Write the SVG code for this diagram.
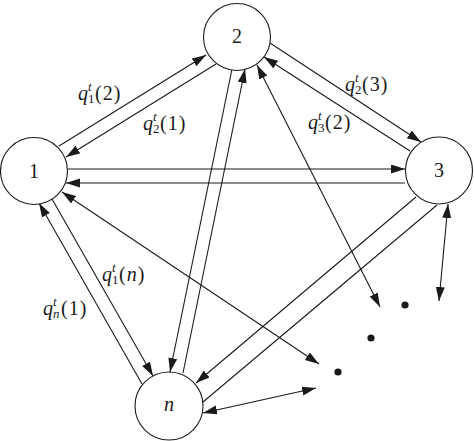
<svg xmlns="http://www.w3.org/2000/svg" width="474" height="441" viewBox="0 0 474 441">
<defs>
<marker id="ah" markerUnits="userSpaceOnUse" markerWidth="15" markerHeight="10" refX="14" refY="4.5" orient="auto-start-reverse" viewBox="0 0 15 10">
<path d="M0,0 L14,4.5 L0,9 z" fill="#1a1a1a"/>
</marker>
</defs>
<style>
.node circle{fill:#fff;stroke:#1a1a1a;stroke-width:1.1}
.edges line{stroke:#1a1a1a;stroke-width:1.1;fill:none}
text{font-family:'Liberation Serif','DejaVu Serif','Times New Roman',serif;fill:#1a1a1a}
.nl{font-size:20px;text-anchor:middle}
.m{font-size:20px}
.i{font-style:italic}
.s{font-size:13px}
.p{font-size:20px;letter-spacing:1px}
</style>
<rect width="474" height="441" fill="#fff"/>
<g class="edges">
<line x1="59" y1="146" x2="206" y2="55" marker-end="url(#ah)"/>
<line x1="216" y1="64" x2="66" y2="157" marker-end="url(#ah)"/>
<line x1="68" y1="169" x2="405" y2="169" marker-end="url(#ah)"/>
<line x1="405" y1="183" x2="66" y2="183" marker-end="url(#ah)"/>
<line x1="270" y1="43" x2="421" y2="142" marker-end="url(#ah)"/>
<line x1="410" y1="151" x2="264" y2="57" marker-end="url(#ah)"/>
<line x1="257" y1="65" x2="380" y2="307" marker-start="url(#ah)" marker-end="url(#ah)"/>
<line x1="232" y1="69" x2="170" y2="372" marker-end="url(#ah)"/>
<line x1="183" y1="373" x2="245" y2="69" marker-end="url(#ah)"/>
<line x1="142" y1="384" x2="39" y2="203" marker-end="url(#ah)"/>
<line x1="52" y1="199" x2="153" y2="376" marker-end="url(#ah)"/>
<line x1="62" y1="192" x2="319" y2="364" marker-start="url(#ah)" marker-end="url(#ah)"/>
<line x1="416" y1="197" x2="196" y2="383" marker-end="url(#ah)"/>
<line x1="203" y1="402" x2="437" y2="205"/>
<line x1="448" y1="204" x2="439" y2="301" marker-start="url(#ah)" marker-end="url(#ah)"/>
<line x1="203" y1="413" x2="316" y2="388" marker-start="url(#ah)" marker-end="url(#ah)"/>
</g>
<g id="node1" class="node"><circle cx="34" cy="171" r="33.5"/><text class="nl" x="34" y="178">1</text></g>
<g id="node2" class="node"><circle cx="237" cy="37" r="33.5"/><text class="nl" x="237" y="43">2</text></g>
<g id="node3" class="node"><circle cx="439" cy="170.5" r="33.5"/><text class="nl" x="439" y="177">3</text></g>
<g id="noden" class="node"><circle cx="169" cy="406" r="34"/><text class="nl i" x="169" y="411">n</text></g>
<g id="dots" fill="#1a1a1a">
<circle cx="405" cy="305" r="3.6"/>
<circle cx="371" cy="338" r="3.6"/>
<circle cx="338" cy="372" r="3.6"/>
</g>
<g id="labels">
<g><text class="m i" x="78" y="100">q</text><text class="s i" x="88" y="91">t</text><text class="s" x="88" y="103">1</text><text class="p" x="95" y="100">(2)</text></g>
<g><text class="m i" x="143" y="130">q</text><text class="s i" x="153" y="121">t</text><text class="s" x="153" y="133">2</text><text class="p" x="160" y="130">(1)</text></g>
<g><text class="m i" x="345" y="91">q</text><text class="s i" x="355" y="82">t</text><text class="s" x="355" y="94">2</text><text class="p" x="362" y="91">(3)</text></g>
<g><text class="m i" x="308" y="129">q</text><text class="s i" x="318" y="120">t</text><text class="s" x="318" y="132">3</text><text class="p" x="325" y="129">(2)</text></g>
<g><text class="m i" x="102" y="281">q</text><text class="s i" x="112" y="272">t</text><text class="s" x="112" y="284">1</text><text class="p" x="119" y="281">(<tspan class="i">n</tspan>)</text></g>
<g><text class="m i" x="43" y="315">q</text><text class="s i" x="53" y="306">t</text><text class="s i" x="53" y="318">n</text><text class="p" x="61" y="315">(1)</text></g>
</g>
</svg>
